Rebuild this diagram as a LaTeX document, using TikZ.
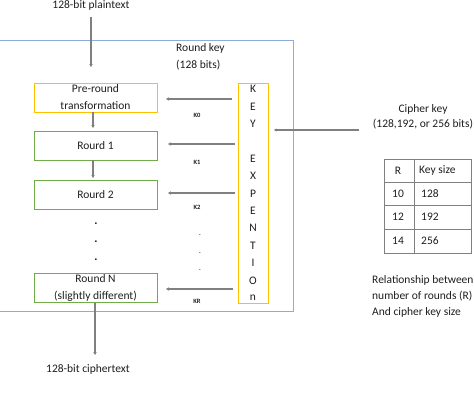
\documentclass[tikz,border=0pt]{standalone}
\usepackage{fontspec}
\setmainfont{Carlito}
\usetikzlibrary{arrows.meta}
\definecolor{frameblue}{RGB}{143,170,220}
\definecolor{boxyellow}{RGB}{255,192,0}
\definecolor{boxgreen}{RGB}{112,173,71}
\definecolor{arrowgray}{RGB}{128,128,128}
\definecolor{txt}{RGB}{30,30,30}
\tikzset{
  roundbox/.style={draw=boxgreen,line width=0.9pt,minimum width=123pt,minimum height=29pt,inner sep=0pt,font=\fontsize{11.5}{17}\selectfont,text=txt,align=center},
  prebox/.style={roundbox,draw=boxyellow},
  garrow/.style={draw=arrowgray,line width=1.4pt,-{Stealth[length=3pt,width=3.5pt]}},
  lbl/.style={font=\fontsize{11.5}{16}\selectfont,text=txt,inner sep=0pt},
  klbl/.style={font=\bfseries\fontsize{6.5}{7}\selectfont,text=txt,inner sep=0pt},
  letter/.style={font=\fontsize{11.5}{12}\selectfont,text=txt,inner sep=0pt},
  dotn/.style={font=\bfseries\fontsize{12}{12}\selectfont,text=txt,inner sep=0pt},
}
\begin{document}
\begin{tikzpicture}[x=1pt,y=-1pt]
\useasboundingbox (0,0) rectangle (474,401);
\clip (0,0) rectangle (474,401);
% outer frame
\draw[frameblue,line width=0.9pt] (-2,40) rectangle (293,311);
% texts
\node[lbl] (plain) at (91,5) {128-bit plaintext};
\node[lbl,align=left,font=\fontsize{11.5}{17}\selectfont,anchor=north west] (rk) at (176,43) {Round key\\(128 bits)};
% round boxes
\node[prebox] (pre) at (95.5,97.5) {Pre-round\\transformation};
\node[roundbox] (r1) at (95.5,145.5) {Rourd 1};
\node[roundbox] (r2) at (95.5,194.5) {Rourd 2};
\node[roundbox] (rn) at (95.5,288) {Round N\\(slightly different)};
\node[dotn] (d1) at (96,224) {.};
\node[dotn] (d2) at (96,242) {.};
\node[dotn] (d3) at (96,260) {.};
% vertical arrows
\coordinate (pt) at (91,17);
\coordinate (ptend) at (91,67);
\draw[garrow] (pt) -- (ptend);
\draw[garrow] (pre.south -| 93,0) -- (93,128);
\draw[garrow] (r1.south -| 93,0) -- (93,178);
\node[lbl] (cipher) at (88,369) {128-bit ciphertext};
\coordinate (ctop) at (95,303);
\coordinate (cend) at (95,355);
\draw[garrow] (ctop) -- (cend);
% key expansion box
\node[draw=boxyellow,line width=0.9pt,minimum width=30pt,minimum height=220pt,inner sep=0pt] (kx) at (253,193) {};
\foreach \l [count=\i from 0] in {K,E,Y,{},E,X,P,E,N,T,I,O,n}{
  \node[letter] (L\i) at (253,89+17.4*\i) {\l};
}
% key arrows
\coordinate (a0s) at (232,99);  \coordinate (a0e) at (166,99);
\coordinate (a1s) at (235,144); \coordinate (a1e) at (168,144);
\coordinate (a2s) at (235,193); \coordinate (a2e) at (168,193);
\coordinate (a3s) at (233,289); \coordinate (a3e) at (166,289);
\draw[garrow] (a0s) -- (a0e);
\draw[garrow] (a1s) -- (a1e);
\draw[garrow] (a2s) -- (a2e);
\draw[garrow] (a3s) -- (a3e);
\node[klbl] (k0) at (197,115) {K0};
\node[klbl] (k1) at (197,162) {K1};
\node[klbl] (k2) at (197,207) {K2};
\node[klbl] (kr) at (197,301) {KR};
\node[klbl] (e1) at (200,235) {.};
\node[klbl] (e2) at (200,253) {.};
\node[klbl] (e3) at (200,270) {.};
% cipher key
\node[lbl,align=center,font=\fontsize{11.5}{15}\selectfont] (ck) at (423,117) {Cipher key\\(128,192, or 256 bits)};
\coordinate (cks) at (359,130);
\coordinate (cke) at (274,130);
\draw[draw=arrowgray,line width=1.2pt,-{Stealth[length=2.5pt,width=3pt]}] (cks) -- (cke);
% table
\draw[arrowgray,line width=0.7pt] (384,159) rectangle (471,253);
\draw[arrowgray,line width=0.7pt] (414,159) -- (414,253);
\foreach \y in {182,205,229} \draw[arrowgray,line width=0.7pt] (384,\y) -- (471,\y);
\node[lbl] (tR) at (398,170.5) {R};
\node[lbl,anchor=west] (tK) at (419,170.5) {Key size};
\node[lbl] (t10) at (398,193.5) {10};
\node[lbl,anchor=west] (t128) at (421,193.5) {128};
\node[lbl] (t12) at (398,217) {12};
\node[lbl,anchor=west] (t192) at (421,217) {192};
\node[lbl] (t14) at (398,241) {14};
\node[lbl,anchor=west] (t256) at (421,241) {256};
% relationship text
\node[lbl,align=left,anchor=north west] (rel) at (372,275) {Relationship between\\number of rounds (R)\\And cipher key size};
\end{tikzpicture}
\end{document}
